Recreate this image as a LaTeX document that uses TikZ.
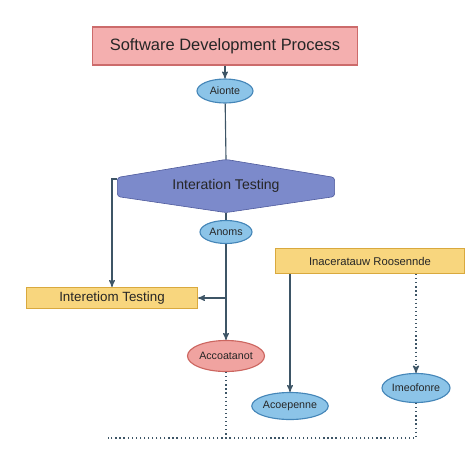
\documentclass[tikz,border=0pt]{standalone}
\usepackage{fontspec}
\setmainfont{Liberation Sans}
\usetikzlibrary{shapes.geometric,arrows,positioning,backgrounds}
\definecolor{titlefill}{HTML}{F4AFAF}
\definecolor{titleline}{HTML}{CC6B6B}
\definecolor{bluefill}{HTML}{8CC4E8}
\definecolor{blueline}{HTML}{4586B8}
\definecolor{hexfill}{HTML}{7C8ACB}
\definecolor{hexline}{HTML}{4A5699}
\definecolor{yellowfill}{HTML}{F8D67E}
\definecolor{yellowline}{HTML}{D9A93E}
\definecolor{redfill}{HTML}{F0A3A0}
\definecolor{redline}{HTML}{CC6660}
\definecolor{flowline}{HTML}{3D5566}
\definecolor{textdark}{HTML}{262626}

\begin{document}
\begin{tikzpicture}[x=0.025cm, y=-0.025cm, >=stealth', line width=0.8pt,
	every node/.style={text=textdark, inner sep=0pt},
	titlebox/.style={rectangle, draw=titleline, fill=titlefill, minimum width=6.625cm, minimum height=0.95cm, font=\fontsize{11.7}{14}\selectfont},
	yellowbox/.style={rectangle, draw=yellowline, fill=yellowfill},
	blueoval/.style={ellipse, draw=blueline, fill=bluefill, font=\fontsize{7.6}{9}\selectfont},
	redoval/.style={ellipse, draw=redline, fill=redfill, font=\fontsize{7.6}{9}\selectfont},
	flow/.style={draw=flowline, ->},
	dotflow/.style={draw=flowline, dotted, line width=0.9pt}]
\useasboundingbox (0,0) rectangle (474,474);

\node[titlebox] (title) at (225,46) {Software Development Process};
\node[blueoval, minimum width=1.4cm, minimum height=0.6cm] (aionte) at (225,91) {Aionte};
\node[minimum width=5.4cm, minimum height=1.3cm, font=\fontsize{10}{12}\selectfont] (hex) at (226,186) {Interation Testing};
\node[blueoval, minimum width=1.3cm, minimum height=0.575cm] (anoms) at (226,232) {Anoms};
\node[yellowbox, minimum width=4.275cm, minimum height=0.525cm, font=\fontsize{9.5}{11}\selectfont] (intbox) at (112,298) {Interetiom Testing};
\node[yellowbox, minimum width=4.725cm, minimum height=0.625cm, font=\fontsize{8}{10}\selectfont] (reqbox) at (370,261) {Inaceratauw Roosennde};
\node[redoval, minimum width=1.925cm, minimum height=0.775cm] (accoat) at (226,356) {Accoatanot};
\node[blueoval, minimum width=1.825cm, minimum height=0.675cm] (accep) at (290,406) {Acoepenne};
\node[blueoval, minimum width=1.7cm, minimum height=0.725cm] (imeo) at (416,388) {Imeofonre};
\coordinate (baseline) at (108,438);

% hexagon behind its label
\begin{scope}[on background layer]
\filldraw[draw=hexline, fill=hexfill, rounded corners=2pt]
	(hex.north) -- ([yshift=-0.45cm]hex.north east) -- ([yshift=0.4cm]hex.south east)
	-- (hex.south) -- ([yshift=0.4cm]hex.south west) -- ([yshift=-0.45cm]hex.north west) -- cycle;
\end{scope}

\draw[flow] (title) -- (aionte);
\draw[draw=flowline] (aionte) -- (hex.north);
\draw[draw=flowline] (hex.south) -- (anoms);
\draw[flow] ([yshift=0.175cm]hex.west) -| (intbox.north);
\draw[flow] (anoms) -- (accoat);
\draw[flow] (anoms.south |- intbox.east) -- (intbox.east);
\draw[flow] (reqbox.south -| accep.north) -- (accep.north);
\draw[dotflow, ->] (reqbox.south -| imeo.north) -- (imeo.north);
\draw[dotflow] (accoat.south) -- (accoat.south |- baseline);
\draw[dotflow] (imeo.south) |- (baseline);
\end{tikzpicture}
\end{document}
